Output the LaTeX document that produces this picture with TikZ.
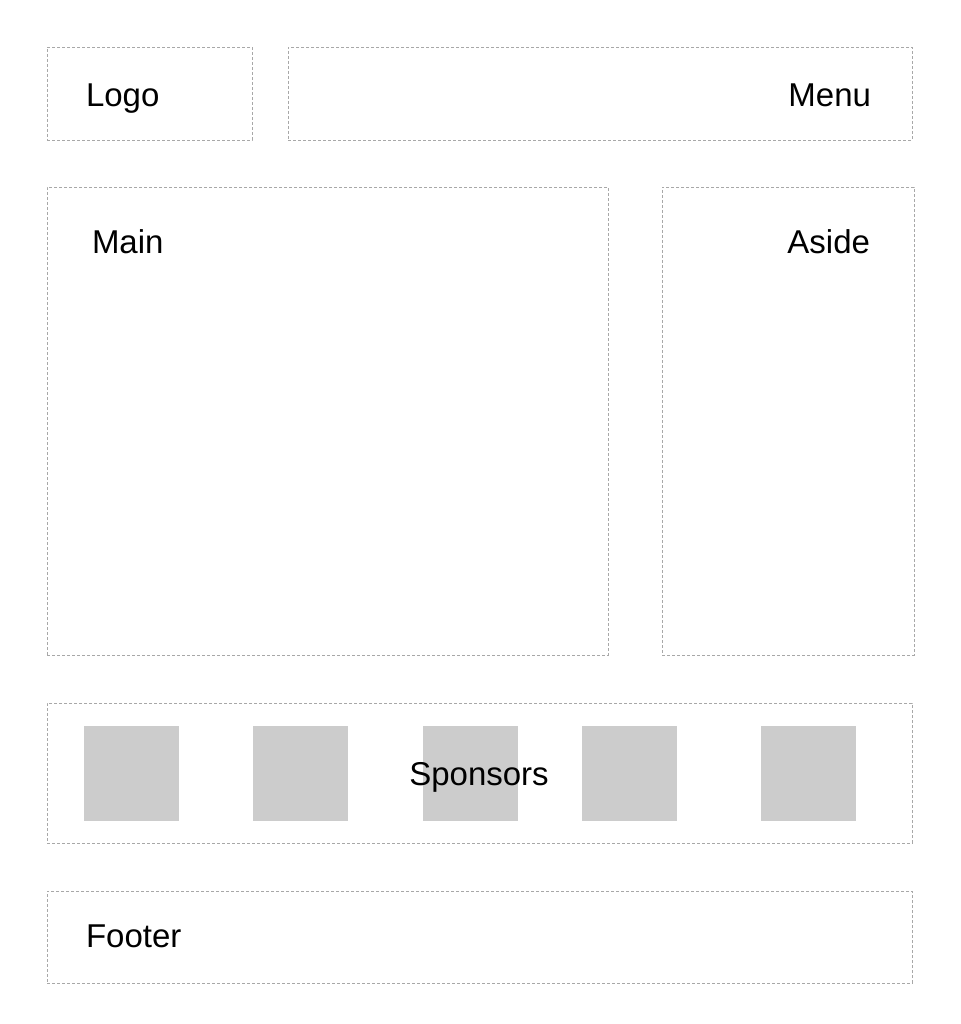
\documentclass[tikz,border=0pt]{standalone}
\usepackage{fontspec}
\setmainfont{Liberation Sans}
\definecolor{dashgray}{HTML}{A8A8A8}
\definecolor{sqgray}{HTML}{CCCCCC}
\begin{document}
\begin{tikzpicture}[x=1pt,y=-1pt,
  region/.style={draw=dashgray,line width=0.9pt,dash pattern=on 3pt off 2pt,inner sep=0pt,outer sep=0pt,anchor=north west},
  sponsor/.style={fill=sqgray,draw=none,inner sep=0pt,outer sep=0pt,anchor=north west,minimum width=95pt,minimum height=95pt},
  lbl/.style={inner sep=0pt,outer sep=0pt,font=\fontsize{33}{38}\selectfont}]
\useasboundingbox[fill=white] (0,0) rectangle (960,1024);
\node[region,minimum width=205pt,minimum height=93pt] (logo) at (47,47) {};
\node[region,minimum width=624pt,minimum height=93pt] (menu) at (288,47) {};
\node[region,minimum width=561pt,minimum height=468pt] (main) at (47,187) {};
\node[region,minimum width=252pt,minimum height=468pt] (aside) at (662,187) {};
\node[region,minimum width=865pt,minimum height=140pt] (sponsors) at (47,703) {};
\node[region,minimum width=865pt,minimum height=92pt] (footer) at (47,891) {};
\node[sponsor] (s1) at (84,726) {};
\node[sponsor] (s2) at (253,726) {};
\node[sponsor] (s3) at (423,726) {};
\node[sponsor] (s4) at (582,726) {};
\node[sponsor] (s5) at (761,726) {};
\node[lbl,anchor=base west] (tlogo) at (86,107) {Logo};
\node[lbl,anchor=base east] (tmenu) at (871,107) {Menu};
\node[lbl,anchor=base west] (tmain) at (92,253) {Main};
\node[lbl,anchor=base east] (taside) at (870,253) {Aside};
\node[lbl,anchor=base] (tspons) at (479,785) {Sponsors};
\node[lbl,anchor=base west] (tfooter) at (86,947) {Footer};
\end{tikzpicture}
\end{document}
